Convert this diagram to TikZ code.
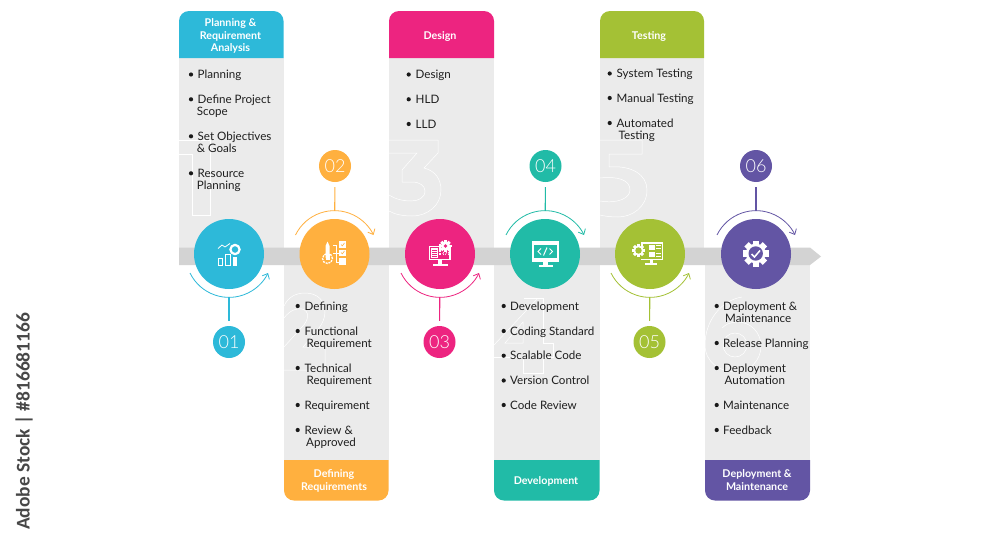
\documentclass[tikz,border=0pt]{standalone}
\usepackage{fontspec}
\setmainfont{Lato}
\newfontfamily\stockfont{Carlito}
\newfontfamily\thinfont{Lato Light}
\usetikzlibrary{arrows.meta}
\definecolor{ccyan}{HTML}{2DB9D9}
\definecolor{corange}{HTML}{FFB03F}
\definecolor{cpink}{HTML}{ED2480}
\definecolor{cteal}{HTML}{21BBA7}
\definecolor{cgreen}{HTML}{A4C135}
\definecolor{cpurple}{HTML}{6355A4}
\definecolor{colgrey}{HTML}{EBEBEB}
\definecolor{bandgrey}{HTML}{D3D3D3}
\definecolor{txt}{HTML}{1E1E1E}
\tikzset{
  x=1pt,y=-1pt,
  itemtxt/.style={anchor=base west,inner sep=0pt,font=\fontsize{11.6}{12}\selectfont,text=txt},
  headtxt/.style={anchor=base,inner sep=0pt,font=\fontsize{10.7}{11}\selectfont\bfseries,text=white},
  bigdot/.style={circle,inner sep=0pt,minimum size=70pt,fill=#1},
  smalldot/.style={circle,inner sep=0pt,minimum size=32pt,fill=#1,text=white,font=\thinfont\fontsize{18}{18}\selectfont},
  ghost/.style={draw=white,line width=0.5pt},
  swoop/.style={draw=#1,line width=0.8pt,-{Straight Barb[length=4.5pt,width=8pt]}},
  stemline/.style={color=#1,line width=1.1pt,shorten <=8pt,shorten >=5pt},
  ico/.style={fill=white,draw=none},
  icoline/.style={draw=white,line width=0.8pt},
}
\newcommand{\blt}[2]{\fill[black!90] (#1,#2) circle (2.1pt);}
\newcommand{\tophead}[3]{\fill[#1] (#2,58) -- (#2,21) arc[start angle=180,end angle=90,radius=10pt] -- (#3-10,11) arc[start angle=90,end angle=0,radius=10pt] -- (#3,58) -- cycle;}
\newcommand{\bothead}[3]{\fill[#1] (#2,460) -- (#2,490.5) arc[start angle=180,end angle=270,radius=10pt] -- (#3-10,500.5) arc[start angle=270,end angle=360,radius=10pt] -- (#3,460) -- cycle;}
\newcommand{\gearico}[5]{% x,y,r,holecolor,holer
  \foreach \a in {0,45,...,315}{\fill[white,shift={(#1,#2)},rotate=\a] (-0.24*#3,0) rectangle (0.24*#3,-#3);}
  \fill[white] (#1,#2) circle ({0.76*#3});
  \fill[#4] (#1,#2) circle (#5);}
\begin{document}
\begin{tikzpicture}
\useasboundingbox (0,0) rectangle (1000,546);
\fill[white] (0,0) rectangle (1000,546);
% columns
\fill[colgrey] (179,58) rectangle (283.5,250);
\fill[colgrey] (389,58) rectangle (494,250);
\fill[colgrey] (600,58) rectangle (704,250);
\fill[colgrey] (284,262) rectangle (388.5,460);
\fill[colgrey] (494,262) rectangle (599.5,460);
\fill[colgrey] (705,262) rectangle (810,460);
% faint outlined numerals
\draw[ghost] (179,140) -- (210,140) -- (210,215) -- (192,215) -- (192,154) -- (179,154);
\draw[ghost] (284,306) .. controls (288,297) and (296,293) .. (305,293) .. controls (318,293) and (325,301) .. (325,312) .. controls (325,324) and (315,333) .. (303,347) -- (325,347) -- (325,370) -- (284,370);
\draw[ghost] (284,318) .. controls (290,310) and (297,308) .. (302,309) .. controls (310,311) and (309,320) .. (302,327) -- (284,347);
\draw[ghost] (389,140) -- (438,140) -- (438,153) -- (424,168) .. controls (436,171) and (441,180) .. (441,190) .. controls (441,205) and (428,216) .. (412,216) .. controls (402,216) and (394,214) .. (389,211);
\draw[ghost] (389,153) -- (417,153) -- (402,170) -- (402,182) -- (412,182) .. controls (420,182) and (425,186) .. (425,191) .. controls (425,198) and (418,201) .. (411,201) .. controls (403,201) and (395,199) .. (389,195);
\draw[ghost] (538,298) -- (494,345);
\draw[ghost] (494,357) -- (523,357) -- (523,373) -- (543,373) -- (543,357) -- (553,357) -- (553,343) -- (543,343) -- (543,298) -- (524,298);
\draw[ghost] (523,322) -- (523,343) -- (505,343) -- cycle;
\draw[ghost] (600,140) -- (642,140) -- (642,154) -- (609,154) -- (609,167) .. controls (632,165) and (647,175) .. (647,190) .. controls (647,207) and (632,217) .. (618,217) .. controls (610,217) and (604,216) .. (600,215);
\draw[ghost] (600,178) .. controls (618,176) and (630,180) .. (630,190) .. controls (630,198) and (618,204) .. (600,201);
\draw[ghost] (742,297) .. controls (722,300) and (705,320) .. (705,345);
\draw[ghost] (705,345) .. controls (705,362) and (720,372) .. (735,372) .. controls (750,372) and (761,360) .. (761,346) .. controls (761,332) and (750,322) .. (738,322) .. controls (731,322) and (726,324) .. (722,328);
\draw[ghost] (735,345) circle (12pt);
% band arrow
\fill[bandgrey] (179,247.5) -- (810,247.5) -- (821,256.5) -- (810,265) -- (179,265) -- cycle;
% header tabs
\tophead{ccyan}{179}{283.5}
\tophead{cpink}{389}{494}
\tophead{cgreen}{600}{704}
\bothead{corange}{284}{388.5}
\bothead{cteal}{494}{599.5}
\bothead{cpurple}{705}{810}
% tab labels
\node[headtxt] (h1a) at (230.5,26) {Planning \&};
\node[headtxt] (h1b) at (230.5,39) {Requirement};
\node[headtxt] (h1c) at (230.5,51.5) {Analysis};
\node[headtxt] (h3a) at (440,39) {Design};
\node[headtxt] (h5a) at (649,39) {Testing};
\node[headtxt] (h2a) at (334,477) {Defining};
\node[headtxt] (h2b) at (334,490) {Requirements};
\node[headtxt] (h4a) at (546,484) {Development};
\node[headtxt] (h6a) at (757,477) {Deployment \&};
\node[headtxt] (h6b) at (757,490) {Maintenance};
% big circles
\node[bigdot=ccyan] (c1) at (229,254) {};
\node[bigdot=corange] (c2) at (334.5,254) {};
\node[bigdot=cpink] (c3) at (440,254) {};
\node[bigdot=cteal] (c4) at (545,254) {};
\node[bigdot=cgreen] (c5) at (650,254) {};
\node[bigdot=cpurple] (c6) at (756,254) {};
% small circles
\node[smalldot=ccyan] (s1) at (229,342) {01};
\node[smalldot=corange] (s2) at (335,166) {02};
\node[smalldot=cpink] (s3) at (439.5,342) {03};
\node[smalldot=cteal] (s4) at (545.5,166) {04};
\node[smalldot=cgreen] (s5) at (649.5,342) {05};
\node[smalldot=cpurple] (s6) at (756,166) {06};
% stems
\draw[stemline=ccyan] (c1) -- (s1);
\draw[stemline=corange] (c2) -- (s2);
\draw[stemline=cpink] (c3) -- (s3);
\draw[stemline=cteal] (c4) -- (s4);
\draw[stemline=cgreen] (c5) -- (s5);
\draw[stemline=cpurple] (c6) -- (s6);
% swooping arcs
\draw[swoop=ccyan] ([shift={(-39,19)}]c1.center) arc[start angle=206,end angle=334,radius=43.4pt];
\draw[swoop=cpink] ([shift={(-39,19)}]c3.center) arc[start angle=206,end angle=334,radius=43.4pt];
\draw[swoop=cgreen] ([shift={(-39,19)}]c5.center) arc[start angle=206,end angle=334,radius=43.4pt];
\draw[swoop=corange] ([shift={(-39,-19)}]c2.center) arc[start angle=154,end angle=26,radius=43.4pt];
\draw[swoop=cteal] ([shift={(-39,-19)}]c4.center) arc[start angle=154,end angle=26,radius=43.4pt];
\draw[swoop=cpurple] ([shift={(-39,-19)}]c6.center) arc[start angle=154,end angle=26,radius=43.4pt];
% icon 1
\draw[icoline] (218.7,258.5) rectangle (222.5,265);
\draw[icoline] (225.5,254.5) rectangle (230,265);
\fill[ico] (232.5,256.5) rectangle (237,265.5);
\draw[icoline] (218,248.5) -- (222,245) -- (225,247) -- (230,243.5);
\draw[white,line width=2.2pt] (235,249.5) circle (4.6pt);
% icon 2
\fill[ico] (327.5,241.5) -- (329.5,246) -- (329.5,258) -- (325.5,258) -- (325.5,246) -- cycle;
\draw[white,line width=1.3pt,dash pattern=on 2pt off 1pt] (327.5,258.5) circle (5pt);
\fill[ico] (325.5,254) rectangle (329.5,260);
\draw[icoline] (333,245) -- (336,245) -- (336,262) -- (339,262);
\draw[icoline] (333,253) -- (339,253);
\fill[ico] (339,241) rectangle (346,247.5);
\fill[ico] (339,249.5) rectangle (346,255.5);
\fill[ico] (339,258) rectangle (346,264.5);
\draw[corange,line width=0.6pt] (341,244.5) -- (342.3,245.8) -- (344.5,243);
\draw[corange,line width=0.6pt] (341,252.5) -- (342.3,253.8) -- (344.5,251);
% icon 3
\fill[ico] (428.5,245.5) rectangle (450.5,260);
\fill[cpink] (430,247) rectangle (449,258.5);
\fill[ico] (431,248) rectangle (437.5,258);
\foreach \yy in {250,252,254,256}{\draw[cpink,line width=0.5pt] (432,\yy) -- (436.5,\yy);}
\fill[ico] (438.5,243.5) rectangle (440.5,251.5);
\fill[ico] (438.5,253) rectangle (440.5,255);
\gearico{445.5}{246}{6}{cpink}{1.8pt}
\draw[white,line width=0.6pt] (444,252) -- (442.8,253.5) -- (444,255) (446.6,252) -- (445.4,255) (448,252) -- (449.2,253.5) -- (448,255);
\fill[ico] (437.5,260) rectangle (442,263.5);
\fill[ico] (432.5,263.5) rectangle (447.5,265.5);
% icon 4
\fill[ico] (532,241) rectangle (558.5,262);
\fill[cteal] (533.5,245) rectangle (557,258);
\draw[white,line width=1pt] (541,248.5) -- (538,251.5) -- (541,254.5) (549.5,248.5) -- (552.5,251.5) -- (549.5,254.5) (547,247.5) -- (543.5,255.5);
\fill[ico] (542.5,262) rectangle (548,265);
\fill[ico] (539,265) rectangle (552.5,267);
% icon 5
\fill[ico] (641,242) rectangle (663,260);
\fill[cgreen] (642.5,243.5) rectangle (661.5,258.5);
\fill[cgreen] (632,249) rectangle (645,258.5);
\gearico{638.5}{250.5}{6.5}{cgreen}{3.2pt}
\fill[ico] (649,245) rectangle (654.5,250);
\fill[ico] (649,252) rectangle (654.5,257);
\fill[ico] (656,245) rectangle (661,246.2);
\fill[ico] (656,248) rectangle (661,249.2);
\fill[ico] (656,252.5) rectangle (661,253.7);
\fill[ico] (656,255.5) rectangle (661,256.7);
\fill[ico] (649.5,260) rectangle (652.5,263);
\fill[ico] (645,263) rectangle (657,264.8);
% icon 6
\gearico{755.7}{253.5}{13}{cpurple}{7.2pt}
\draw[white,line width=1.5pt] (751.5,254) -- (754.5,257) -- (760,250.5);
% column 1 items
\blt{191}{74.5}
\node[itemtxt] (a1) at (197.5,78.7) {Planning};
\blt{191}{99.3}
\node[itemtxt] (a2) at (197.5,103.5) {Define Project};
\node[itemtxt] (a3) at (196.7,115.7) {Scope};
\blt{191}{136.3}
\node[itemtxt] (a4) at (197.5,140.5) {Set Objectives};
\node[itemtxt] (a5) at (196.7,152.7) {\& Goals};
\blt{191}{173.3}
\node[itemtxt] (a6) at (197.5,177.5) {Resource};
\node[itemtxt] (a7) at (196.7,189.7) {Planning};
% column 2 items
\blt{297.7}{306}
\node[itemtxt] (b1) at (304.5,310.2) {Defining};
\blt{297.7}{331}
\node[itemtxt] (b2) at (304.5,335.2) {Functional};
\node[itemtxt] (b3) at (306.5,347.4) {Requirement};
\blt{297.7}{368}
\node[itemtxt] (b4) at (304.5,372.2) {Technical};
\node[itemtxt] (b5) at (306.5,384.4) {Requirement};
\blt{297.7}{405}
\node[itemtxt] (b6) at (304.5,409.2) {Requirement};
\blt{297.7}{430}
\node[itemtxt] (b7) at (304.5,434.2) {Review \&};
\node[itemtxt] (b8) at (306,446.4) {Approved};
% column 3 items
\blt{408.7}{74.5}
\node[itemtxt] (d1) at (415.5,78.7) {Design};
\blt{408.7}{99.3}
\node[itemtxt] (d2) at (415.5,103.5) {HLD};
\blt{408.7}{124}
\node[itemtxt] (d3) at (415.5,128.2) {LLD};
% column 4 items
\blt{503.7}{306}
\node[itemtxt] (e1) at (510,310.2) {Development};
\blt{503.7}{331}
\node[itemtxt] (e2) at (510,335.2) {Coding Standard};
\blt{503.7}{355.7}
\node[itemtxt] (e3) at (510,359.9) {Scalable Code};
\blt{503.7}{380.5}
\node[itemtxt] (e4) at (510,384.7) {Version Control};
\blt{503.7}{405}
\node[itemtxt] (e5) at (510,409.2) {Code Review};
% column 5 items
\blt{609.7}{73.5}
\node[itemtxt] (f1) at (616.5,77.7) {System Testing};
\blt{609.7}{98}
\node[itemtxt] (f2) at (616.5,102.2) {Manual Testing};
\blt{609.7}{123}
\node[itemtxt] (f3) at (616.5,127.2) {Automated};
\node[itemtxt] (f4) at (618.5,139.4) {Testing};
% column 6 items
\blt{716.7}{306}
\node[itemtxt] (g1) at (723,310.2) {Deployment \&};
\node[itemtxt] (g2) at (725,322.4) {Maintenance};
\blt{716.7}{343}
\node[itemtxt] (g3) at (723,347.2) {Release Planning};
\blt{716.7}{368}
\node[itemtxt] (g4) at (723,372.2) {Deployment};
\node[itemtxt] (g5) at (724.5,384.4) {Automation};
\blt{716.7}{405}
\node[itemtxt] (g6) at (723,409.2) {Maintenance};
\blt{716.7}{430}
\node[itemtxt] (g7) at (723,434.2) {Feedback};
% stock id
\node[rotate=90,anchor=base west,inner sep=0pt,text=black!72,font=\stockfont\bfseries\fontsize{19.4}{20}\selectfont] (stock) at (29.5,530) {Adobe Stock | \#816681166};
\end{tikzpicture}
\end{document}
